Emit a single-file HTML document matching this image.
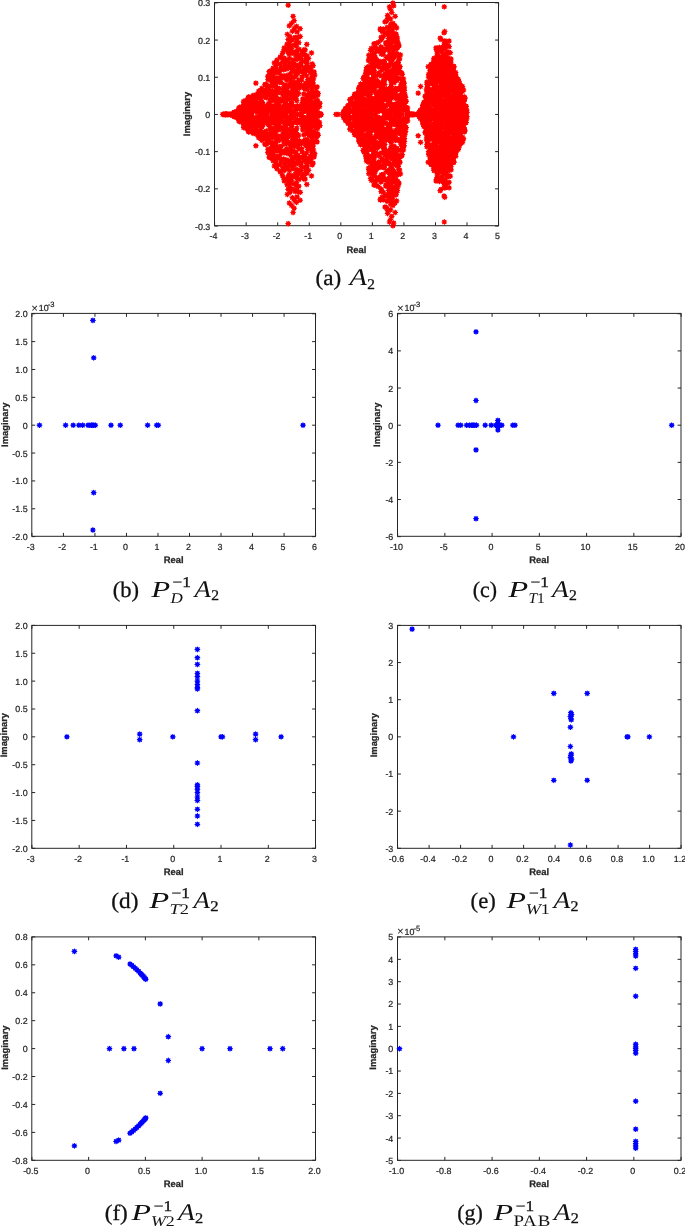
<!DOCTYPE html>
<html lang="en"><head><meta charset="utf-8"><title>Eigenvalue distributions</title>
<style>html,body{margin:0;padding:0;background:#fff}body{width:685px;height:1226px;overflow:hidden}svg{display:block}
.tk text{font-family:"Liberation Sans",sans-serif;font-size:8.9px;fill:#262626;stroke:#262626;stroke-width:0.22px}
.lb{font-family:"Liberation Sans",sans-serif;font-size:9.4px;font-weight:bold;fill:#262626;stroke:#262626;stroke-width:0.25px}
.cap{font-family:"Liberation Serif",serif;font-size:22.2px;fill:#111;stroke:#111;stroke-width:0.3px}
.cap .i{font-style:italic}.cap .n{stroke:none}text{text-rendering:geometricPrecision}
</style></head><body>
<svg width="685" height="1226" viewBox="0 0 685 1226">
<rect width="685" height="1226" fill="#fff"/>
<marker id="mr" markerUnits="userSpaceOnUse" markerWidth="8" markerHeight="8" viewBox="-4 -4 8 8" refX="0" refY="0" overflow="visible"><path d="M-2.3 0H2.3M0-2.3V2.3M-1.65-1.65L1.65 1.65M-1.65 1.65L1.65-1.65" stroke="#ff0000" stroke-width="1.2" stroke-linecap="round" fill="none"/><circle r="1.95" fill="#ff0000"/></marker>
<marker id="mb" markerUnits="userSpaceOnUse" markerWidth="8" markerHeight="8" viewBox="-4 -4 8 8" refX="0" refY="0" overflow="visible"><path d="M-2.3 0H2.3M0-2.3V2.3M-1.65-1.65L1.65 1.65M-1.65 1.65L1.65-1.65" stroke="#0000ff" stroke-width="1.2" stroke-linecap="round" fill="none"/><circle r="1.95" fill="#0000ff"/></marker>
<path d="M214.60 225.70v-3.40M214.60 2.50v3.40M246.16 225.70v-3.40M246.16 2.50v3.40M277.71 225.70v-3.40M277.71 2.50v3.40M309.27 225.70v-3.40M309.27 2.50v3.40M340.82 225.70v-3.40M340.82 2.50v3.40M372.38 225.70v-3.40M372.38 2.50v3.40M403.93 225.70v-3.40M403.93 2.50v3.40M435.49 225.70v-3.40M435.49 2.50v3.40M467.04 225.70v-3.40M467.04 2.50v3.40M498.60 225.70v-3.40M498.60 2.50v3.40M214.50 226.05h3.40M498.50 226.05h-3.40M214.50 188.85h3.40M498.50 188.85h-3.40M214.50 151.65h3.40M498.50 151.65h-3.40M214.50 114.45h3.40M498.50 114.45h-3.40M214.50 77.25h3.40M498.50 77.25h-3.40M214.50 40.05h3.40M498.50 40.05h-3.40M214.50 2.85h3.40M498.50 2.85h-3.40" stroke="#262626" stroke-width="1" fill="none"/>
<rect x="214.50" y="2.50" width="284.00" height="223.20" fill="none" stroke="#262626" stroke-width="1"/>
<g class="tk">
<text x="213.50" y="239.00" text-anchor="middle">-4</text>
<text x="245.06" y="239.00" text-anchor="middle">-3</text>
<text x="276.61" y="239.00" text-anchor="middle">-2</text>
<text x="308.17" y="239.00" text-anchor="middle">-1</text>
<text x="339.72" y="239.00" text-anchor="middle">0</text>
<text x="371.28" y="239.00" text-anchor="middle">1</text>
<text x="402.83" y="239.00" text-anchor="middle">2</text>
<text x="434.39" y="239.00" text-anchor="middle">3</text>
<text x="465.94" y="239.00" text-anchor="middle">4</text>
<text x="497.50" y="239.00" text-anchor="middle">5</text>
<text x="210.30" y="229.50" text-anchor="end">-0.3</text>
<text x="210.30" y="192.30" text-anchor="end">-0.2</text>
<text x="210.30" y="155.10" text-anchor="end">-0.1</text>
<text x="210.30" y="117.90" text-anchor="end">0</text>
<text x="210.30" y="80.70" text-anchor="end">0.1</text>
<text x="210.30" y="43.50" text-anchor="end">0.2</text>
<text x="210.30" y="6.30" text-anchor="end">0.3</text>
</g>
<text class="lb" x="356.50" y="252.60" text-anchor="middle">Real</text>
<text class="lb" transform="translate(190.10 114.00) rotate(-90)" text-anchor="middle">Imaginary</text>
<polyline points="422.4,118.2 347.6,122.2 267.4,119.4 291.9,105.8 386.7,140 447.1,131.3 301.4,105.3 287.1,135.1 310.2,149.1 252,104.9 281.3,159.6 452.1,100.3 272.4,81.5 452.1,106 378.2,65.1 392.9,225.8 277.8,123.9 262.7,106.9 418.2,135.7 450.1,70.2 367.7,72.3 380.7,87.3 371.3,148.9 282.4,175.2 299.6,144.1 317.3,100.2 441.3,145.3 400.7,98.2 455.7,72.5 401.7,148.6 250.4,99.8 393.1,180.8 427.6,87 427.3,87.8 445.4,186.7 400.8,156.2 386.5,162.1 278.1,104.5 381,167.1 272.4,147.3 395.6,98.4 446.1,123.5 429.2,108 386.2,186 265.5,132.3 442.3,78.1 360,104 252.3,97.7 314.5,125.4 439.8,122.7 447.5,70 454.1,125.9 427.7,127.6 309.5,112.6 428.6,151.6 403.5,106.5 319.9,103.2 447.6,134 434.7,131.3 431.9,90.1 387.7,72.3 360.1,137.8 280.4,56.8 285.3,122.1 304.6,125.4 452.5,140 388.4,90.7 277.9,92.9 433.1,97.9 277.6,110.6 363.9,106.4 252,123.9 264.2,96.6 419.3,112.1 300.2,108 422,112.2 431.9,130.3 359.6,87.8 355.5,112.4 367.9,117.2 448,53 434.1,58.2 431.4,83.2 372.3,157.4 366,115.9 372.4,138.9 286.9,120.5 390.6,153.7 276.3,86.7 348.8,118.3 295.2,37.3 250.3,99.5 311.2,82.6 384.1,64 425.6,131.6 286.1,107.1 446.3,97.3 306.5,170.3 375.4,113.5 390.5,139.1 467,116.5 314.6,120.5 307.6,159.9 264.5,113.4 286,179.2 440,50 378.8,161.8 454.8,97.4 290.7,151.6 432.7,144.8 278.8,98.9 302.4,53.1 398.1,155.3 364.5,118.7 464.7,106.5 437.8,124.5 317,113 455,134 450.7,73.2 366.7,113.3 404.4,141.7 379.7,130.6 243.9,117 443.2,143.3 457.8,98.6 294.1,208.2 425.4,112.2 277.8,124.6 452.3,146.7 448.8,148.2 452.5,88.8 223.8,114.1 459.8,120.2 280.1,82.1 425.5,105.9 437.8,104.3 462.5,86.6 290.2,144.2 276.9,98.8 398.9,150.5 354.5,117.8 400.1,105.4 394.6,91.6 401.4,90 398.5,140.5 464.1,129.3 426.8,100.7 425,103.4 394.9,113.8 461.6,111.3 400.5,130 356,119 457.7,98.8 245.8,114.8 317.3,134.3 315.5,93.9 441.3,121.5 448.7,95.3 440.2,38.1 250.3,125.3 429.2,83.4 429,100.6 442.7,136 428.1,88.7 459.1,102.9 428.7,74.2 273.4,147.9 366.7,125.9 358.9,116.1 310.1,146.5 272.2,130 400,162.2 395.5,154.9 307.9,79.5 283.4,51.3 456.8,83.1 274.4,82.3 398.1,73.5 443.5,66.2 283.8,159 447,59.4 457.5,81.9 452.1,122.8 359.1,98.7 358.4,130.3 402.9,82.2 384.1,164.8 362.4,131.4 460.6,141.4 442.8,58.4 296.7,128.1 403.2,146.3 462.8,90 449.4,124.5 307.9,158.4 285,84.8 386.8,159.5 457.5,146.9 438.8,64.2 446.7,71.3 368,100.1 236.6,112.1 440.6,136.9 238.8,108.2 390.9,86.3 390.5,118.7 413.3,114.3 246.3,128.3 455.1,135.7 258.1,103.4 289.9,63.1 356.6,106.1 379.3,75.1 313.5,150 445.9,160.5 452.6,79.3 441.4,103.8 447.7,183.4 371.2,114.6 420.2,117.2 371.3,86.5 268.8,103.5 445.2,87.7 406.9,115 432.5,98.4 401.1,119.6 239.8,120.1 457.6,139.3 364.5,110.1 442.2,135.7 460.2,111.8 388.5,78.1 443.9,126.8 390.7,165.4 375.8,117.9 307.7,142.3 445.7,68.5 451.5,118.7 444.4,127.3 448.6,76.9 400.4,54.9 384.6,99.3 381.3,126.2 433.1,130.9 260,125.2 437.5,155.2 460,127 363.9,122.4 451.1,169.8 298.2,157.6 364,77 372.5,63.6 426.9,146.7 270.9,130.3 392.5,159.2 303.6,111.6 441.4,133.9 275.1,134.2 281.3,152.3 395,123.9 372.4,148.2 271.3,72.1 289.9,109.8 260.1,113.8 312.1,150.9 444.8,42.6 365.6,81.8 264.9,114.6 276.9,168.7 386.7,88.8 309.5,116.2 363.6,113 446.9,149.5 314.1,156.9 453.9,101.6 441,115.2 391.7,122.3 266.4,113.9 363.6,112.3 454.2,93.4 276.9,139.7 361.3,95.7 432.3,139.3 301.2,166.4 440.7,81.7 375.8,110.9 378.4,60.9 464.8,97.7 396.7,124.8 431.3,74.4 399.3,70.4 296.5,176.9 293.1,176.7 374.2,105.2 445.8,182.8 433,111.5 362.9,139.5 308.8,116.4 287.5,136.7 395.8,63.6 446.4,170.1 384.9,133.8 448.6,151.9 449,151.2 239.7,112.2 387.4,113.8 457.1,140.7 276.1,77.7 377.4,94.6 290.7,64.1 386.4,133.2 383.4,36.6 455.1,93.1 253,95.5 454.1,148.3 365.9,124.4 293.2,131 391.8,55.5 319.5,115.6 309.1,111.4 355.6,114.3 303.8,102 373.4,73.9 422.8,120.3 254.8,97.7 373.5,125 399,45.8 411.6,114.2 293.9,45.2 273.9,159.2 390.5,219.5 376.6,102.7 291.9,123 394.1,47.9 290.3,94.7 461.6,86.4 427.4,113.9 390.7,165.3 250.5,118.1 424,102.8 259.2,103.5 285.4,131.9 378.8,155.8 386.5,135.8 315.5,134.9 432.6,84.2 256.8,106.1 390.1,150.1 431.2,136.7 381.1,94.5 436.8,156.3 303.8,126.8 456.2,127.1 443.5,55.3 248.7,96.8 309.2,100.5 441.7,75.5 346.7,115 380.4,28.9 433.9,129.7 395.1,156.7 286.9,108.3 360.3,116.3 280.1,146.7 380.8,50.4 428.7,154.6 404.6,103 389.2,98.1 309.3,115.9 459.3,122.6 367.9,111.6 367.4,133.2 296.9,178.1 434.5,167.8 271.9,146.6 450.3,176.1 443.5,162.6 234.2,116.4 291.5,23.4 445.1,149.4 303.6,73.3 289.3,144.4 273.2,110.1 261.9,102 286.7,118.6 442.8,170.4 305.1,54.7 390.8,157.5 365.7,155.1 365.9,129 390,197.4 367,110.5 386.8,114.2 441.4,61 440.6,92.5 312.2,63.9 276.2,69.2 266.7,135.3 245.6,102.6 280.2,118.1 389.7,170 456.3,110.1 375.7,152.9 442.8,126.8 422.3,115.7 272.8,86.2 298.8,186.2 434.7,144.9 365,103.8 312.3,83.9 446.7,91.6 376.7,51.2 410.2,114.2 283.5,115 277.2,139.7 296.7,106.8 431.1,102.6 310.4,96.6 461.6,142.4 461,128.8 452.4,146.9 387.6,117.7 387.7,131.7 380.7,29.1 358.2,137.3 276.7,116.7 262.3,91.7 255.2,125.1 395.1,124.6 436.1,108.7 296.1,38.2 442,75.5 393.8,162.9 317.5,123.6 436.8,150.1 255.9,83.1 385.5,179.3 361.5,101.3 447.2,119.5 256.4,129.4 350.7,125.1 436.6,157.3 437.1,59.8 379,109.4 372.4,59.3 313.7,105.9 386.9,201.3 403.8,103.3 374.7,137.2 376,86 443.7,101.1 431.4,136.4 313.8,107.2 463.5,90 314.6,108.3 390.5,9.3 280.5,120.8 431.8,155.2 365.3,145.8 433,117.3 426.8,112.3 357.6,99.1 440.9,158.7 442.1,52.3 461.8,114.8 396.3,107.9 281.9,136.1 285.3,106.7 398.8,54.7 381.5,50.3 440.2,133.3 268,134.6 312,115.9 355.8,117 291.9,189 355.8,132.7 431.4,127.4 243.9,111.8 242.3,121 364.4,103.2 382,51.5 310.3,72.7 260,103.6 453.5,108.5 305.2,49.8 279,151 290.3,134.1 362.9,89.3 446,89.6 384.9,91.3 269,151.8 378.5,186.6 275.2,115.1 357.1,124.3 356.3,127.2 420.2,118.5 384.2,79.9 402.1,127.3 373.4,154.9 442.9,136.5 242.3,107.8 308.3,83.6 357.1,104.5 437.3,175 370.4,123.7 404.4,90.5 370.8,115.6 403.4,78.9 462.2,89 259,117.5 265.4,108.2 458.4,148.1 301.9,108.3 459,116.9 225.9,114.3 296.1,190.6 312,112.9 313.4,118.3 393.6,92.3 291.3,103.5 298.6,58.3 361.5,127.5 307.6,100.7 355.6,115 312.3,144.9 396.6,200.9 268.2,106.5 412.3,114.4 438.4,107 357.8,134.8 277.5,104.8 381.9,197.3 422.6,120.2 449,63.9 264.8,94.9 371.3,120.3 442.7,169.9 374.2,123.6 309.2,67.4 297.7,163.2 351.4,111.1 296.7,100.7 365.5,147.6 281.3,127.9 452.4,81.9 443.3,179.5 312.4,102.9 438.3,104.6 268.6,89.3 460.1,136.4 260.1,96.2 304.5,127.3 447.8,146 400,66.6 246.9,106.1 456.2,101.7 301.6,107.3 281.2,117.5 427.6,141.8 431.1,126.2 285.6,63 412.2,114.3 445.2,141.1 391,152.3 459.6,140.8 428.4,108.3 432.5,91.5 386.5,66.7 383.8,51.3 281.3,82.6 430.9,156.8 284.7,102.6 434.4,143.7 286.7,110.2 436.6,71.5 446.5,146.9 288.6,86.4 383.2,109.3 302.5,126.4 447.2,109.3 298.1,160 381.1,134.3 389.2,201.3 300.3,36.5 297,94.6 392.5,171.3 458.1,139 454.8,131.4 292.6,82.6 402,125.9 297.9,155.4 429.9,158 378.5,146 428.6,107.6 432.6,130.6 295.3,174.3 302.1,151.9 402.3,78.7 388.8,187.9 464.8,122.2 266.9,140.3 374.3,58.8 407.6,108 460.2,137.9 460.2,104.5 447.9,72.2 402.2,126.3 284.3,122.3 437.9,146.6 437,124 425.8,123.4 384.5,113.5 400,87.6 284.2,47.8 370.7,104.2 257.5,131.8 274.6,116.3 432,67.9 272.4,134.7 348.4,105.1 373.5,103.8 284,58.3 272.9,134.6 360.2,129.1 297,134.2 441.4,94.9 406.9,113.8 369.9,113.2 452.8,159.5 396.7,159.9 449.5,89.7 390.1,44.7 431.4,64.2 240,110.5 422.6,109.5 275.7,145.4 373.1,145 393.2,58.2 450.7,70.6 441.1,39.5 287.7,60.4 373.6,124.4 425.4,116.6 379.2,91.6 441.3,83.5 234.5,116.7 280.8,67.8 395.1,163.5 316.7,109.6 299.6,141.6 463.8,110.2 392.5,198.8 385,113.2 460.1,92.4 381.3,102.6 250.3,129.3 267.9,152.6 310.8,127 379.9,177.4 444,83.2 400.4,173.9 250.3,103.5 293.7,91.7 398.2,166.4 384.7,116.7 401.6,98.9 439.3,169.6 306.8,173.1 277.8,104.9 441.5,180.1 448.8,52.4 368.1,125.3 453.2,150.4 355.1,118.3 385.3,73.6 376,101.7 387.9,101.5 238.8,109.5 439.7,137.9 444.7,31.5 386.6,57.5 247.6,127.8 441.2,94.6 445.5,126.1 435.8,98.6 441.5,51.5 311.6,101.9 277,72.7 442.4,68.1 388.7,135.6 344.1,117.3 428.7,116.3 461,100 290.4,187.5 402,102.9 368.6,60.8 438.6,103.1 438.8,57 455.3,140.1 441.6,154.5 465.9,106.2 360.1,110.2 399,183 424.7,118.4 289.5,53.6 357.2,120.4 433.9,62.4 433.7,159.6 428.6,77.2 277.6,118.2 285.6,165.8 448.1,161.7 453.1,108.7 440,178.8 459.4,111.9 368,128.7 378.2,163.7 390,94.1 291.2,116.2 286,49.6 373.6,175.3 307.6,68.9 451.8,105.2 303,111.7 266.3,97.8 293.1,52.1 385.9,105.6 362.6,114.2 272.6,73.9 239.8,108.7 442.2,93.1 396.7,79.7 397.6,46.1 453.4,152.9 450.9,166.7 384.8,160.8 236.6,116.7 309.6,120.4 393.6,136.5 288.2,5.2 354.6,134.5 281.6,116.7 384.9,116.1 350,99.4 290.1,36.6 381.2,191.6 297.8,163.5 389.9,101 304.5,156.2 447.4,58.1 391,73.1 393,205.4 355.1,134.7 355.1,110.5 368.3,109.9 381.5,118.4 397.5,117.5 391.5,104.1 301.2,62.4 311.9,91.3 360.1,91 370.7,124.6 461.8,109.5 277.8,104.2 402.2,108.9 439,135 434,81.5 238.6,116 445.2,127.8 368,160 435,145.2 457.6,89.5 444.7,197.3 373.2,150.9 387.6,210.4 454.1,114.3 465.2,121.5 430,135.3 465.5,116.7 430.3,100.1 465.9,117.3 378.5,82.8 377.4,80.5 396.7,96.3 313.5,78.8 405.5,131.4 371.6,149.8 433.6,113.6 432.4,155 246.9,122.7 381.6,91.3 375.7,81.4 406.3,121.6 456.8,145.7 446.7,137.2 248,106.6 401.7,155.8 454.3,100.7 459.7,112.8 295.9,130.6 285.5,94.8 260.1,96.2 271.2,100.9 361.8,86.7 395.3,93.8 450.1,158.6 454.6,98.7 375.8,121.1 265.5,117.5 459.8,93.5 359.5,141.6 430.9,164.1 445.6,113.2 395.1,156.7 453.6,113.1 449,119.9 372.6,169.1 290.2,64.7 443.8,45.4 229.1,114.3 248.7,132 297.7,65.6 385,115.6 297.5,105.8 442.1,179.3 293.8,111.2 389.6,103.2 272.3,122.5 301,58.3 347.4,115.8 453.3,160.5 428.8,130.9 383.8,167.6 444.4,132.3 374.1,61.7 464.1,99.5 294.5,28.4 307.7,110.5 432.4,155.5 300.1,28.6 312.9,82.5 392.9,3 436.8,72.5 389.6,104.8 396.7,132.5 364.5,76.7 304.1,160.8 399.3,101.9 439.1,74.9 287.7,120.1 279.5,140.4 278.1,124.3 436,181 360.2,99.7 314.7,153.7 288.1,189.3 254.2,104.6 461.1,112.8 384.8,68 367.4,77.3 455,94.8 436.5,125.5 447.5,92.1 257,116.6 403.5,122.3 427.4,114.9 456.9,114.2 369,66.4 441.7,70.6 395.8,165.2 245.9,120.6 425,125.4 448.5,89.7 452.3,103.5 455.9,86 399.3,158.4 376.7,177.6 284.6,96.6 275.2,85.1 428.6,135.8 389.8,54.2 457,110.1 428.7,117.2 265.5,96.5 321,114.7 442.3,61 434.8,114.7 380.1,50.1 391.4,86.6 366.7,102.9 379,119.8 458.2,149.5 451.9,90.3 313.5,93.3 280.5,78 257,112.2 441.2,57.4 457.8,130.2 308.8,112.4 372.2,109.1 283.8,69.8 441.5,110.6 309.2,161.4 261.3,116.9 393.9,57.2 395.8,107.4 431.4,92.4 258.7,91 286,112.6 437.4,90.8 317.4,114.1 364.4,100.9 286.6,79.9 292.2,157.3 393.3,107.4 274.4,131 357.8,94 437.1,110.2 315.3,87.6 466,106.4 354.4,115.1 268.5,120.9 430.5,126.5 280.5,108 379,109 449.7,131.3 258.7,137.8 385.2,110.5 394.2,146.2 381.4,189.2 447.8,109.1 389.3,36.5 386.5,72.7 236.6,113.6 369.6,97.4 355.6,94.8 401.8,114.2 403.7,89.4 384.2,179.7 368,135.1 455.7,156.3 291.7,112.6 386.2,33.6 465.5,112.1 349,122.5 460.2,117 441.5,118.2 386.8,161 386.5,156.1 385.5,49.5 309.2,128.3 380.8,178.4 259,111.3 449,108.9 453.6,126.8 258.2,132.5 346.7,113.8 244.6,112 260.6,99.8 434,104.9 436.9,156.7 440.1,124.2 372.2,119.7 434.9,87 455.4,137.8 430.2,92.8 293.1,16.3 369,135.7 451.5,68.6 237,116.5 464.2,131.9 453.9,127.2 375.8,127 361.1,131.2 370.5,126.9 452.8,133 368.1,103.5 432,160.9 404.8,94.1 435.5,105.5 315.6,87.3 267.8,124.3 373,129 429.7,93.8 376.9,98.6 300.1,200.2 274.2,123 375.8,107.7 438.2,114.8 292.4,161.6 452.6,162.7 391.7,190.5 431.7,74.8 381.9,31.5 301.7,143.5 389,34.9 369.1,138.3 360,109.2 446.3,131.5 287.5,92.1 366.6,67.6 273,79.6 444.4,101.5 446.5,119.2 311.6,92.3 465,114.2 435.5,122.4 311.8,92 448.6,149.1 446.7,53.1 368.8,55.2 311.5,175.9 444.1,163.7 318.1,93.4 448,175.8 379,119.4 301.1,163 433.2,117.2 381,125.1 447.3,167.2 292.6,146.2 446.1,58.8 377.4,148.3 384.6,32.7 465.4,113.9 270.8,90.9 316.1,116 245.8,114 312.4,125.9 402.9,146.6 251.1,123.1 313.5,135.5 427.6,143.9 397.8,165.4 458.4,111.9 285.1,122.5 292.5,114.3 290.8,160.6 447.8,83.1 391.1,61 283.5,106.9 288.6,50.1 445.2,101 361.4,140.3 405.7,127.4 289.3,25.8 429.7,120.5 304.2,105.2 435.5,106.4 373.9,65.2 386.1,96.6 347.4,113 429.1,121.3 256,120.4 388.6,100.6 310.4,116 384.7,112.1 379.3,153.7 288.9,162.4 380.1,178.7 235.4,114.7 434.5,65.9 275.9,91.3 282.4,53.6 427.9,112.7 439,122.8 381.1,89.7 426.7,93 392.5,30 396.1,194.8 442.3,111.9 432.3,89.5 393,202.8 375.2,171.8 455.7,88.8 447.3,101.8 295.4,38.4 388.9,50.5 356.4,103.5 298.5,135.1 431.1,109.3 370.5,101.9 365.9,99.8 364.8,102.7 303.9,179 319.9,125.6 360,124.8 348.8,110.5 389.9,199.2 397.7,41.8 377.7,85.8 293.8,117.6 292.4,67.2 306.5,75.9 463.7,123.5 398.4,184.7 443.2,154.5 442.8,113.5 445,47.8 432.1,101.8 296.6,108.3 393.5,110.5 457.3,146.9 277.3,104.8 284.3,60.4 355.3,102.7 268.6,139.5 437.2,172.3 279.4,81.5 442.8,115.3 449.4,104.3 267.3,111.1 461.2,101.5 276.1,146.8 364,139.8 268.4,151.9 404.8,134.7 289.6,184.5 450.2,163.3 254.4,95.5 439.5,181.4 452.2,116.5 360.9,85.3 304.2,141.2 373.9,161.8 414.1,114.4 250.1,117.6 255.3,108.5 307.1,62 284.7,141.8 270.1,100.1 442.3,161.7 289.9,119 423.9,102.4 250.1,111.2 398.8,174.1 373.9,163.6 386.8,69.3 400.7,94.8 387.5,47 451.1,59 438.7,116.3 284.6,132.2 383.4,192.2 446.6,146.3 434.4,63.6 363.7,84.5 384,136.5 298.8,42.6 400.7,130.6 435.5,68.2 310.7,104.8 261.8,140.4 430.2,79.8 442.4,107.4 427.1,95.3 418.8,114.7 368.7,159.6 367.2,116.4 234.5,112.1 273,152.9 317.6,133.7 376.2,166.4 270.1,157.4 268.3,134.8 270.8,72.9 301,71.2 413.3,114.4 309.4,161.4 423.2,124.5 438.3,92.3 458.1,89.8 463.8,118.6 420.2,110.3 248.4,115.7 243.8,102.7 275.3,101.5 456.9,114.6 297.9,73.4 453.2,114.2 227.7,114.5 286.8,111.9 287.7,108.7 374.3,157.9 289.4,154.3 348.3,113 361.1,97.6 450.8,72.1 434.7,89.5 447.2,102 441.7,88.3 389.2,110.9 286.8,87.6 300.1,107.8 378.6,145 368.8,169.6 460.1,132.8 243.7,127.6 446,70.1 436.1,120.1 385.9,123.2 285.5,116.9 273.8,137.3 269.1,71.7 443.6,115 237.2,111.6 315.6,141.5 446.1,154.4 275.3,127.3 428.4,131.8 345.8,120.6 285.4,96.9 401.1,109.2 437.8,128.9 277.2,89.1 256.1,109.3 445.3,60.5 290.4,41.3 458.4,116.9 363.8,88.9 391.8,55 389.7,47.5 237,113.4 366.7,115.5 393,26 313.4,110.5 284,170.5 391.4,142.2 439,172.1 446.7,175.7 431.4,164.6 374.2,138.7 241.9,108.4 301.7,85.3 295.7,155.7 400,141.2 363.6,116.5 452.3,125.3 301.1,65.8 375.6,83.1 357.6,129.7 364.6,119 466.6,109.9 368.6,84.4 393.6,193.5 306.3,128.2 439.8,86.7 443.2,74.3 358.2,115.9 304.1,68 381.7,88.9 304.6,125.5 441.2,134.2 268.2,122.3 436.4,160.6 387.7,156.5 426.8,125.5 416.9,114.2 279,77.8 396.8,174.3 291.5,163 394.2,82.6 393.5,118.3 292.6,89.2 377.9,111.7 296,145.4 277.7,106.5 296,59.6 281.3,69.2 453.3,83.7 355.6,114.5 361,94.9 287.4,194.4 449,139.8 252,112.1 442.6,168.7 399.3,162.1 440.6,135 347.8,110.5 284.2,111.7 307.2,107.1 303.9,49.8 281.3,100.9 268.5,91.3 397.2,175 441.8,169.7 394.1,120.4 273.1,68.1 441.5,110.6 395.1,72.1 289.8,120.3 436.3,69.3 445.6,135.3 307.2,99.1 310.8,80.2 383.7,148.9 453.3,84.3 356.3,105.2 442,171 454.2,135.4 444.1,65.1 304.5,101.5 431.4,160.1 252.3,131.1 317.3,101 429.1,126.1 299.2,171.7 385.2,118.3 391.5,119.6 266.5,115 438.5,166.7 383.5,96.8 288.7,92.6 424.5,115.2 426.4,100.7 453.3,145.1 267.9,76.2 391.4,185.3 317.6,95.1 375.1,47 449.8,63.1 361.8,142.1 303.1,174.5 302.1,76.9 398.9,133.2 383.7,79.9 306.6,163.5 433.9,99.1 383.3,146.9 446.6,94.2 403.2,103.3 391.1,196.3 317.3,128.6 284.2,181 297,38.8 439.2,98 447.2,51.8 459.7,83.4 382.6,87.4 358.4,97 455.9,111.6 243.7,101.2 439.7,90.9 381.9,178.7 299.3,140.7 372.6,49.3 402.6,143.8 442.5,143.3 313.8,118 289.2,177.9 293.6,122.8 384.8,84.5 381,105.8 425.1,122.2 432.6,98.2 462.5,142.2 433.6,168.8 358.4,131.8 450.9,62.1 465.5,118.4 441.7,140.5 309.5,115.9 369.8,136.1 277.7,71 441.8,154.4 433.3,69.8 296.9,50.7 226,114.4 276.6,118.8 460.4,101.8 442.4,121.4 440,67.5 457.3,81.9 442.7,161.1 443.2,87.6 430.3,81.2 435.9,59.7 431.4,145.6 432.7,84 361.3,133.1 438.3,58.3 441.8,74.4 439.2,168.5 373,67.4 363.7,144.3 311.8,136.8 309,113.9 464.8,130.1 302.8,129.9 422.1,109.8 429.2,145.4 309.7,143.1 457.4,132.7 390.7,96.2 452,139.3 269.1,157.1 279.6,155.8 309.4,159.1 447.8,73.9 366,78.2 433,89.9 260.2,116.7 282.4,89.6 375.5,65.7 396.6,27.9 291.1,147.6 439.3,92.1 299.1,49.4 354.4,131.6 374.3,70.9 273.2,118.7 373.9,67 433.3,114.1 385.3,155.2 395.1,65.3 371.3,140.8 292.4,197.6 391.8,173.8 256.8,122.7 295.2,138 441.9,144.3 390.9,24.3 382.5,100.1 368.8,173.6 371.4,180.4 271.3,156.7 364.4,126.9 453.5,155.1 458.4,80.7 312,76.1 349,111.9 371.3,172.2 402.2,74.3 345.8,108.2 312.2,164.9 375.7,75.9 287.4,149.9 406.5,110.4 249.9,115.2 355.8,112.6 376.6,126.1 395.4,152.2 388.7,93.2 453.9,162.4 434.3,64.6 292.4,175.8 314.7,75.1 438.2,168.5 447.1,106.8 277.9,135.9 435.7,141.8 275.2,113.7 436.6,111.5 275.1,94.6 431.8,73.6 397.8,181.6 289.1,107.1 381,61.7 364.8,126.1 436,115 393.9,171.6 238.6,112.8 363.1,78.5 436.7,123.6 377.9,117.1 357.2,108.4 304.4,159 364.9,80.2 390.5,18.9 433.6,115.2 304.3,86.3 428.2,66.6 280.7,106.8 388.9,89.6 314.2,116.9 236.6,115.2 430,93.5 291.1,81.2 245.9,108.2 456,116.4 348.4,123.7 436.5,73.9 302.5,102.4 440.5,168.3 296.1,43.1 396.3,49.3 449.1,46.6 373.1,149.3 366.3,105.5 295.9,139.6 394.5,131.7 426.8,128.1 364.3,86.2 449.3,118.6 391.3,146.7 300,143.5 412.3,114.6 436.8,78.7 251.4,107.9 293.8,111.4 352.6,97.9 444,196 365.9,104.4 248.3,130.9 395.1,104.2 459.7,145.4 270.8,155.9 356,109.8 427.1,84.4 445.1,79.4 354.4,113.7 448.7,133.5 455.6,76.2 257.7,106 431.3,125.3 362.9,129.4 314.1,71.9 398.8,59.1 294.4,165 442.3,116.9 378.3,105.5 293.2,97.8 369,106.8 404.4,138.3 376.3,94.5 267.7,143 402.1,101.5 447.4,170.7 425.1,132.6 461.2,127.3 307.2,121.7 270.6,108.3 261.9,126.8 397.5,111.3 390.6,94.5 457,118.7 286.6,148.9 294.1,20.6 445.5,102.7 313.1,65.7 253.7,104.4 299.7,120 449.1,187.8 348.2,106.3 428.2,162.2 371.9,137.7 460,126.1 264.9,143.9 457.4,99.6 367.4,115 249.5,97.4 451.6,102.6 433.1,114.7 367.4,113.8 264.8,111.8 370.4,105.1 301.6,148.7 296.5,51.9 435.1,150.1 295.7,152.1 258.4,120.2 241,117.7 292,116.5 386.9,27.5 454.1,80.5 396.7,104 394.7,46.9 356.1,107.6 308.3,145.2 452.4,105.8 291.6,126.6 430.1,153.4 309.4,67.4 388.9,178.3 309.4,69.7 389.3,115.4 437,50.6 461.1,108.3 357.4,130.2 306.6,103.1 288.5,52.5 295.9,98.2 266.7,93.5 367.4,95.6 355.6,134 285.5,106.4 393.5,190.6 360.7,129.5 276.6,99.5 234.2,112.4 388.5,32.1 282.4,139.2 391,155.7 456.9,141.2 379.9,104.2 362.4,126.3 261.8,88.4 438.5,154.5 289.9,165.7 387.6,18.4 293,60 366.1,116 398.4,89.2 343.7,115.5 450.3,52.7 275.9,137.5 249.9,98.3 402.2,119.9 312.4,143.6 404.4,87.1 396.8,80.5 431.6,151 305.1,174.1 297.6,120.9 464.8,131.1 277.7,122.3 457.2,99.4 451.3,124.6 265.4,120.6 380.7,141.5 354.5,111 316.8,133.7 294.5,82.3 354.6,94.3 389.9,29.6 260.1,119.1 448.8,176.4 435,83.6 420.5,116 390.6,75.1 440.9,70.1 284.5,58.9 286.3,75.5 317.3,127.8 429.7,120.1 436.9,72.1 376.3,134.3 254.8,108 447.3,62.9 230.6,114.5 359.1,130.1 289.1,121.7 455.4,91 387.4,115 268.7,119.4 459.1,125.9 382.7,144.1 439.8,142.1 296,169.2 447.8,119.7 440.6,80.5 399.6,58.8 376,130.3 374.5,141.2 269.3,124.4 387,32.6 303.6,155.5 404.7,119.1 385.5,152 422.3,113.1 309.1,122.6 281.3,146.2 302.8,98.9 307.2,129.7 299,159.9 380.6,29.9 382.4,97.1 393.6,35.3 371.9,91.1 232.9,114.4 450.5,130.5 396.6,44.7 457,130.5 378.8,67 279.4,116 358.5,110.2 268.8,125.3 276.3,142.1 391.4,43.5 443.4,109.9 267.7,85.8 264.8,117 258.1,125.4 388.8,190.5 448.5,139.1 316.8,95.1 433.6,118.7 239.7,116.6 442.8,102 436.2,87.1 226.2,114.2 390.7,116.1 380.7,199.7 373.6,104.4 449.2,63.8 450.3,154.7 311.2,146.2 396.7,149.1 286.8,116.9 396.3,179.5 287.4,124.2 434.1,170.6 400.5,98.8 296.4,46.2 375.1,184.4 441.5,177.3 272,114.6 387.6,111.1 350.7,103.7 444,32.8 393.8,108.7 317.1,86.9 452.3,155.6 301.6,121.5 307.6,128.1 365.6,136.5 387.5,181.8 280.5,164.9 388.8,40.9 297.6,107.9 438.3,136.5 465.9,118.1 379.7,135.3 306.8,55.7 400.4,98.2 439.8,81.9 370.6,103.6 435.9,146.1 401.6,129.9 306.4,121.9 273.8,115 299.6,84.7 268.3,94 423.3,113.3 441.3,107.3 447.9,122.4 441.2,171.4 383.5,199.6 434.9,166.9 447.6,130.8 398.3,111 457.7,130 423.9,126.4 398.8,169.7 363.8,139.9 295.4,91 248.1,109.2 434.3,100.6 432.5,130.4 230.5,114.6 382.5,128.7 445.9,68.3 439.3,136.7 440,67.1 311.7,141.2 292.5,114.5 440.2,95.5 283.4,61.1 361,133.9 277.5,124 448,87.8 407.9,113 309.1,106.2 367.4,151.5 423.2,104.3 450.9,116.8 285.5,122.4 302.2,52 259.9,105.1 453.1,120.1 358.8,140.1 420.2,111.6 449,77.6 371,129.4 250.5,110.7 390.6,134.3 439,56.7 367.3,86.6 309.3,112.9 400.8,72.6 371,99.4 273.8,91.5 379.9,51.4 398.4,101 422.8,108.5 398.3,105.8 429.1,107.5 316.7,119.2 386.8,138.7 367,141.3 391.7,38.3 435.9,82.7 396.1,34 455.6,154 453.6,115.7 450.7,158.2 430.5,102.3 434.3,164.2 445.8,46 249.9,130.5 455.9,142.8 431.3,145.5 457.2,138.2 289.4,74.5 459.6,88 273.4,80.9 386.6,171.3 370,102.5 443.1,63 428.6,93 433.6,60 363.1,150.3 434.8,114.1 255.9,145.7 435.8,130.2 280.7,122 292.4,136.4 377.4,134.2 359.5,122.1 402.4,83.5 442,57.8 295.2,191.5 299,68.9 371.2,114.2 315.7,121 429.9,115.6 304.6,103.4 384.9,112.7 458.7,118.9 363,110.8 428.4,97 446.2,168.5 440,161.7 463.2,107.4 462.8,138.8 455,140.7 284.2,150.9 273.9,69.6 459.4,116.9 455.7,140 459,100.1 247.5,99.9 424.7,110.4 287.4,104.6 269,77 395.6,90.8 275.2,143.7 397.8,63.4 451.6,126.2 346,117.8 388.5,196.7 295.3,54.5 297.8,65.3 264.4,121.6 455.6,152.6 443.7,56.5 433.1,151.5 433.1,77.3 288.9,53.5 452.8,95.8 349,116.9 382.2,106 304.1,61.4 403.8,109.7 267.4,109.4 426.3,131.4 435.5,123.3 390.8,148.9 283.4,167.7 429.7,108.7 381,63.2 259.9,123.7 393.4,51 267.8,104.5 247.5,110.7 376.9,130.2 366,150.6 304.1,167.4 430.2,149 313.7,122.9 372.3,123.4 375.1,181.8 286.9,68.9 311.6,136.5 439,106 436.4,137.4 276.9,89.1 374.5,100.3 428.8,97.9 390.7,112.7 290.7,164.7 393.2,149.7 395,25.9 431.7,154 244.6,116.8 309,114.9 274.8,106.7 359.2,141 240.6,118.3 360.3,112.5 389.3,113.4 296.5,202.4 304.5,70.9 397.8,47.2 369.1,90.5 350.5,117.8 304.4,69.8 381.5,102.7 446.6,82.5 443.8,169.8 390.7,132.6 381.3,54 448,80.7 459.7,116 382.6,141.4 406.2,101.2 456,112.4 433.7,134.3 359.5,106.7 347,108.6 460.4,127 307.1,89.3 464.8,98.7 378.3,123.3 450.8,156.7 311.9,137.5 436.5,103.3 460.2,90.9 443.6,113.8 287.1,44.2 286.8,141.2 392.7,69.8 376,80.8 452.1,101.2 377.4,92.7 299.7,108.8 380.7,47 253.7,126.2 248.3,97.9 282.7,94.8 240.6,121 463.2,121.4 450.9,112 255.8,107.9 444,145.6 434.4,165.2 318.1,135.4 310.3,133.5 258.2,96.3 445.4,42.1 292.3,162.7 261.9,102 282.1,121.9 298.1,173.8 442,153.3 364,151.8 353.6,104.1 437,104.8 371.8,173.8 376,142.8 395,104.9 461,128.5 281.3,76.5 461.1,116 389.3,192.3 370.4,109.2 364.1,118.6 370.3,134.2 364,89 391.7,106.5 310.4,112.8 249.1,113 422.6,119.3 395.5,73.9 457.1,88.1 451,137.7 364.2,89.4 299,106.8 414.8,114.4 387.9,127.3 430.3,77.8 396.6,184.1 393.5,38.2 460.2,124.3 381,123 359.2,87.8 454.9,138.7 297.8,136.2 379.9,124.6 389.1,38.3 462.2,139.8 389,170.3 262.8,109.5 449.3,110.2 352.7,102.5 371.3,88 431.3,103.5 411.1,114.6 391,76.5 387,155.1 263,104.1 391.2,182.9 284.2,77.9 428.4,120.5 296.6,120.5 313.9,97.3 437.1,100.7 393.3,157.5 367,87.5 429.5,138 296.7,122 381.5,110.4 457.2,90.6 446,139.2 371.3,79.9 288.9,175.3 391.1,74.6 294.5,146.5 282.7,134 401.7,73 312.1,77.9 390,134.7 426,100.3 448.6,101 374.2,156.2 222.7,114.4 250.4,129 350,129.4 360,119.6 433.3,146.7 391.4,120.8 467,112.3 297.3,114.1 429.9,70.8 437.1,128.1 280.5,150.8 369.9,115.6 442.5,85.5 253,133.3 430.4,118.3 442.7,67.7 395.6,130.4 424,126 465.9,122.6 300.9,115.3 377.2,179.8 356.6,122.7 287.1,93.7 394.1,41.1 447.8,154.9 279.6,73 268.4,76.9 434,123.9 261.1,115.7 452.3,73.2 382,177.3 272.9,94.2 387,196.2 390,31.4 374.3,170 286.3,153.3 432.6,144.6 386.2,43.9 436.7,105.2 463.5,138.8 343.7,117.6 452,89.5 456.6,91.2 397.6,182.7 273.8,113.8 362.3,128.9 446,103.7 306.1,141 272.3,77.1 442.7,58.9 285.5,134 347,120.2 464.2,96.9 390.8,79.9 289.7,142.9 235.3,113 435.1,78.7 362.9,99.4 371.2,130.8 359.8,104.2 367.2,112.4 306.4,106.9 276.7,112.1 313.1,163.1 459.8,108.6 288.1,39.5 273.1,71.9 370,117.2 436.5,154.9 270.5,86.4 289.3,203 225.2,114.3 374.6,82.2 268.2,137.7 369,162.4 259.4,124.2 430.3,147.6 443.4,118.9 281.2,111.3 465.9,111.5 457,98.8 437.3,53.8 425.6,97.2 292.3,66.1 465.2,107.3 422.8,123.1 452.2,112.3 282.6,129.7 435.1,147.4 395.6,138 447.9,153.7 453.7,161.5 368.7,82.5 457.7,123.6 370,126.3 391.5,109.2 432.5,137.3 290.2,164.1 462.6,97.3 443.4,66.7 259.4,104.6 430.9,80.8 384.2,148.9 363.6,115.8 431.6,77.8 442.6,88.9 379.7,97.1 253.7,102.6 429.2,120.8 288.7,44.9 343.7,116.2 290.7,77.2 450.7,103.4 373.7,55 448.6,127.8 292.4,92.4 457.6,148.9 389.7,58.8 463.3,99.1 378.4,167.9 399.3,66.7 312.4,85.2 261.3,111.9 292.4,53 241.8,120.1 457.4,96.1 390.7,63.4 440.7,109.3 355.8,111.8 438.7,112.5 389.6,125.6 358.2,91.5 308.5,58.4 394.7,181.9 277,165.6 247.5,118.1 434.7,139.3 278.8,148.8 455.6,74.8 436.6,117.3 442.9,92.3 394.1,187.7 443.5,173.5 249.5,131.4 391.2,45.9 433.7,69.2 442.1,115.5 451.3,104.2 393.3,71.3 442.1,176.5 401.1,144.5 385.8,43 384.4,106.1 443.1,165.8 436.4,179.3 279.4,147.3 449,89 394,33.6 366.9,153.9 426.7,135.8 286.1,121.7 232.5,114.7 292.1,145.3 429,128.2 260.1,92.2 466,122.4 362.3,99.9 363.2,116.9 464.8,106.6 425.1,96.2 435.4,133.2 442.4,160.7 386.8,90.1 446.1,105.3 402.3,150.1 439.8,106.1 461.6,117.5 362.7,144.5 456.3,118.7 427.9,116.1 393.7,223 423.4,119.3 312.8,83.3 364.1,110.2 386.1,132.2 315.7,107.8 384.5,122.6 458.2,79.3 233.7,112.9 276,65.6 402.2,102.5 429.2,153.3 272.8,142.6 311.9,107.9 228.4,114.4 259.2,125.3 348.7,122 276,163.2 399.3,126.9 435.9,94.1 304.6,55 368,68.8 387.9,104.2 461.8,119.3 372.5,165.2 343.7,113.3 355.3,126.1 439.6,129 396.7,68.9 381.2,37.2 376,98.5 355.1,94.1 372.4,89.9 438.2,60.3 366.4,114.3 301.9,120.5 397.2,114.9 269.6,118.2 444.4,145.2 356.3,123.6 361.4,88.5 266.6,138.2 435.5,111 456.9,87.6 453.6,102 291.2,112.6 439.2,76.3 389.1,162.6 430.3,151 435.4,95.6 441.9,84.5 391.3,82.1 433.3,82.1 295.8,145.4 429.9,113.2 446,158.7 364.4,125.6 355.8,116.2 446.2,60.3 281.6,112.1 374.4,175.2 441.4,125 225.5,114.2 382,75.9 306.5,57.4 398.2,62.4 440.3,117.7 237.4,111.2 434,147.3 422.1,119 387.6,213.5 310.8,101.8 285,144 429.1,102.7 394.5,55.9 307.8,110.8 386.8,114.6 422.6,108.6 371.5,73 294.8,86.3 269,149.7 272.3,151.7 365.5,81.2 240.6,107.8 390.6,181.8 368,93.7 453.2,114.6 433.6,110.1 391.8,216.3 384.2,167.3 342.6,114.5 379.7,93.5 451.8,123.6 306.5,58.5 280.2,171.2 272.3,106.3 465.5,110.4 272.4,94.1 382.2,122.8 286.2,130 427.7,101.2 461.9,121.5 380.4,199.9 434.9,101.1 288.9,66.4 284.7,87 460.2,109.4 449.1,41 316.1,112.8 382.4,137.2 431.9,98.5 346.2,119.2 300.2,120.8 292.1,83.5 292,112.3 362.4,94.9 355.8,96.1 247.8,105.6 447.1,151.5 377.4,136.1 429.7,108.3 428.6,121.2 268,79.6 435.5,169.2 292.6,64.8 314.2,111.9 393.3,121.4 254.2,124.2 457.7,105.2 384.9,137.5 227.1,114.4 347.5,119.8 391.1,167.8 274.3,62.8 382.4,91.6 388.5,150.7 356.1,121.2 382.7,84.7 378.6,83.8 248.4,113.1 264.5,138.2 347.8,118.3 301.6,121 411.1,114.1 453.5,120.3 441.1,189.3 237.4,115.3 449.8,165.7 445.6,115.6 354.3,124.2 434.5,162.9 364.4,127.9 353.8,108.8 435.3,137.9 373.9,43.8 309.1,117.4 237,112.3 443.8,183.4 248,122.2 371.8,55 371.2,98 451.3,85.1 439.2,152.5 359.8,124.6 390.9,142.5 394.6,137.2 463.2,99.3 318.7,123.8 271.9,82.2 366.5,149.9 273,149.2 291.3,125.3 452.1,127.6 384.3,148.6 317.5,105.2 390.3,76.4 463.2,129.5 307.8,118 350.3,128.4 276.9,60.1 447.6,94.8 465.4,114.9 360.6,144.8 279.5,88.4 462.3,108.6 387.9,124.6 376.2,62.4 443.3,93.4 298.8,36.8 297.5,119.7 364.2,139.4 358.9,112.7 304.6,173.8 373.9,185 407.2,117.9 443.3,135.4 442.1,113.3 431.1,154.5 393.4,177.8 437.1,169 372.4,169.5 378.5,42.2 266.6,90.6 384.2,49.1 384.9,79.4 398.2,45.2 290,110 287.6,99.7 400.1,123.4 401.8,135.5 420.6,86.5 370.4,119.6 257.4,94 452.6,66.1 444.5,115.2 403.7,139.4 255.2,103.7 290,118.8 290.3,122.2 384.6,196.1 397.8,112.1 449.8,133.1 424.5,114.8 449.1,182.2 451.5,110.1 396.8,54.5 376,127.1 293.7,137.1 389.7,181.3 455,117.8 373,99.8 260.1,136.6 395,91.6 286,116.2 251.8,113.1 386.2,195.2 304.6,103.3 447.9,75.1 365.6,147 402.6,85 436.1,163.7 379.2,137.2 291.3,180.2 447,169.4 388.9,139.2 366,156.7 243.5,118.7 453.2,158.3 359.5,136.3 348.3,115.8 455.9,117.2 306.6,125.7 430.3,128.7 276.9,130 432.1,127 384,92.3 381.5,181.5 279.4,112.8 440.4,110.4 397.2,53.8 437.2,127.2 439.2,130.8 446.1,74.4 298.1,68.8 432.5,89.6 264.9,114.2 430.4,110.5 442.3,150.7 441.6,74.3 429.2,75.5 398.2,97.4 289.5,170.6 403.2,82.5 440.2,190.7 462.5,137.3 402.4,94 254.8,131.1 439.2,60.3 397.3,38.1 464,127.3 434.9,61.9 239.9,114.7 307.7,86.5 260.6,129 310.2,79.7 370.6,125.2 346,111 227.7,114.3 392,169.1 427.1,133.5 283.5,113.8 383.2,119.5 297.1,196.9 373.7,173.8 283.7,60.2 374.7,91.6 449,164.9 389.5,222 374.4,53.6 300.9,113.5 381,165.6 438.5,62.1 447.8,82.8 398.8,111 321,114.1 422.4,110.6 273.1,156.9 306.8,44.4 296.4,182.6 386.2,42.8 283.1,75.9 369,122 290.1,47.7 260.8,122.6 453.9,66.4 444.9,188 447.3,124.6 371.4,48.4 358.2,126.8 317.1,141.9 430.9,148 297.5,109.1 437.2,56.5 441.4,118.5 455.1,110.3 443.3,88.2 459,111.9 376.2,59.3 397.8,116.7 349,107.6 449,113.4 364.8,135.7 313.8,110.8 306.1,159.4 254.8,118.5 381.2,139.8 364.5,152.1 368.8,59.2 395.3,135 285.1,106.3 311.6,126.9 362.4,97.4 454.1,102.9 447.8,131.5 309.7,85.7 367.3,142.2 458.3,86.5 302.4,175.7 290.5,154 384.9,207 440.6,91.9 359.5,92.5 426.4,89.8 287.4,34.4 254.7,108.1 393.2,79.1 376.2,169.5 266.6,143.9 297.3,114.7 371.5,155.8 270.7,95.3 438.8,171.8 370,111.6 290.1,181.1 366.3,123.3 261.7,111.6 397.7,187 450.1,129.5 389.6,124 428.1,140.1 229.6,114.3 256.1,119.5 447.8,145.7 354.4,97.2 462.6,131.5 297,190 428.7,111.6 270.8,137.9 434.5,61 396.5,192.4 370.8,113.2 437.9,76.9 458.3,142.3 398.3,117.8 293.5,130.3 371.3,142.3 395.6,88.4 443.4,162.1 262.8,119.3 465.9,110.7 295.7,76.7 368.3,118.9 276.6,129.3 404.7,100.9 440.3,111.1 237.4,117.6 443.7,172.3 284.3,168.4 295.7,73.1 295.8,75.2 390.1,78.7 270.5,142.4 450.1,99.3 437.1,118.6 373.6,53.5 422.8,105.7 360.7,98.7 381.8,70.4 290.8,68.2 436.8,68.3 456.6,137.6 265.4,84.3 347.9,115 293.3,86.4 386.6,64.8 370.3,94.6 316.5,91.7 307.7,118.3 440.6,136.3 235.4,114.1 375.6,145.7 434.1,118.1 290.1,192.2 432.4,73.8 254.8,110.3 290.2,84.6 440,119.7 370.6,50.4 289.3,84.4 464.6,121.4 418.2,93.1 453.2,78.4 281.9,92.7 291.5,205.4 431.2,92.1 460.2,119.4 288.7,183.9 444.5,150 391.8,173.3 305.2,179 381.3,174.8 307.9,149.3 379.6,121 287.5,91.8 356.3,101.6 430.9,72 391.7,168.4 372.3,71.4 433.1,114.1 310.9,69.1 432.4,73.3 274.6,112.5 276.1,82 444.9,40.8 381,102.7 459.8,135.3 312.9,146.3 460.4,132.3 449.2,165 259.8,120.2 402.4,134.8 392.8,53 255.8,101.6 438,94.4 449,115.4 443.2,141.2 347,120.5 375.8,101.8 286.2,98.8 380.5,118.5 428.7,112.5 436.3,60.3 374.1,167.1 440.7,119.5 438.3,170.5 365.6,92.3 392.8,175.8 293.1,212.5 374.5,87.6 305.6,83.1 270.7,133.5 243.5,110.1 347,108.3 433.8,77.1 431.3,154.4 442.4,76.7 459.3,120.1 368.7,146.3 305.6,118.1 407.6,120.8 295.9,89.2 389,58.5 234.7,113.5 315.7,125.6 375.7,147.4 347.6,106.6 389.2,130.7 444.5,113.6 350.5,111 284.5,163.5 426,128.5 305.6,110.7 447.6,85.6 391.1,154.2 437.5,55.7 426.9,82.1 289.5,175.2 447.3,127 388.4,138.1 298.2,71.2 440.4,97.1 392.5,57.5 319.4,106.6 352.7,126.3 295.4,137.8 433.9,166.4 416.7,114.3 456.4,122.3 429.7,135 377.7,143 262.3,137.1 241.9,120.4 291.6,102.2 350.9,124.2 307.9,70.4 276.7,63.5 366,112.9 266.9,88.5 258.1,135 442.1,118.9 293.9,183.6 293.1,95.3 394.8,40.3 364.3,142.6 433,138.9 248.1,119.6 364.8,77.4 292.6,139.6 272.8,142.9 260.1,132.6 430.4,134.3 384.5,106.2 319.4,122.2 288.5,176.3 438.1,121.4 309.6,108.4 251.1,105.7 394.1,180.9 387.2,57.3 311.7,87.6 319.5,113.2 264.5,115.4 396.8,148.3 437.5,73.6 396.4,162.4 375.5,163.1 306.7,122.4 280.8,161 303.6,117.2 398.3,123 348.7,106.8 246.3,100.5 452.4,123 389.8,174.6 434.7,83.9 441.5,118.2 448,148.1 436.8,160.5 371.3,56.6 372,86 268.2,91.1 298.5,93.7 365,125 393.8,65.9 383.3,81.9 433.2,111.6 458.5,131 366.4,114.5 254.8,120.8 390.8,71.3 422.5,107.3 237,115.4 297.1,31.9 441.3,105.2 304.3,142.5 362.4,133.9 394,195.2 405.5,97.4 377.2,49 302.2,176.8 464.6,107.4 437.5,173.1 429.5,90.8 362.4,102.5 379.6,107.8 391.3,130.5 388.8,38.3 397.2,113.9 317.4,114.7 381.1,139.1 395,202.9 442.1,49.5 293.8,117.4 431.1,74.3 443.2,85.5 284.3,142.1 372.3,89.5 440.5,60.5 289.2,50.9 318.7,105 387.6,15.3 255.8,120.9 310.1,82.3 459.3,108.7 284.5,169.9 426.8,103.3 359.5,87.2 247.8,123.2 375.4,115.3 306.8,165.4 254.7,120.7 284.7,126.2 441.2,100.3 404.7,109.7 336,114.4 271.1,70.9 439.5,47.4 365.7,73.7 265.4,144.5 426.4,139 452.3,82.1 443.7,127.7 407.2,110.9 392.5,69.6 459,128.7 389.9,127.8 405.7,101.4 434.9,141.8 443.3,49.3 345.4,115.4 347.5,109 372,142.8 362.5,125.7 267.3,117.7 345.4,120 387,73.7 266.5,113.8 401.8,93.3 436.3,168.5 368,120.3 452.6,149.5 280.4,172 378.7,100.9 444.4,83.6 439.4,102.6 439,93.8 430.1,75.4 384.3,80.2 455.4,75.8 397.3,190.7 407.9,115.8 437,178.2 384.9,149.4 313.9,131.5 312.8,145.5 398.5,88.3 450.7,125.4 237.2,117.2 275.7,83.4 425.8,105.4 371.8,165.2 388.1,116.8 389.2,117.9 428.8,135 390.5,89.7 261.9,126.8 282.1,106.9 252.6,110.4 395.1,72.1 398.2,183.6 251.4,120.9 388.1,112 433.3,114.7 402.4,145.3 437.9,151.9 381.7,139.9 391.3,98.3 301.6,80.1 288.7,136.2 257.5,97 277.7,157.8 360.7,99.3 353.8,120 447.8,97.3 455.1,118.5 278.8,80 289.6,44.3 290.5,74.8 350.9,104.6 430.9,64.7 308.8,135.4 457.4,129.2 393,138.7 276.2,159.6 287.6,129.1 277,156.1 309.5,112.9 390.6,47 368.7,69.2 301.4,123.5 296,83.4 389.2,27.5 257.4,134.8 303.1,54.3 461.9,107.3 264.4,107.2 263,124.7 454.6,130.1 310.8,148.6 448.6,79.7 255.3,120.3 404.6,125.8 237.4,113.5 383.5,132 400.3,108.2 447.3,104.2 243.5,104.5 271.1,157.9 398.2,131.4 277,63.2 395.8,121.4 386.5,21.4 299.2,57.1 372.4,80.6 437.8,99.9 358.5,118.6 404.7,108.2 374.7,98.4 425.6,112.4 240.6,110.5 376,148 436,113.8 276.7,165.3 425.6,116.4 268.7,109.4 373.1,79.5 366.6,161.2 403.8,82.9 426.8,116.5 239.9,114.1 366,72.1 304.5,157.9 455.3,88.7 406.2,127.6 391.8,12.5 266.3,131 260.1,115 306.8,63.4 446.5,109.6 265.5,111.3 373,161.4 453.3,68.3 383.5,29.2 382,67.9 445,181 286.9,159.9 435.5,59.6 306.1,87.8 422,116.6 306.2,58.6 447.9,106.4 406.5,118.4 462.3,120.2 233.7,115.9 348.2,122.5 434.3,128.2 376.1,43.3 366.9,74.9 404.7,120.6 454.5,117.7 304.5,72.6 288.6,142.4 308.5,170.4 312,152.7 450.6,123.3 372.5,88 305.6,145.7 290.3,106.6 441.7,158.2 344.1,111.5 396.5,36.4 272.8,85.9 389,193.9 381,103.7 445.6,93.5 291.7,116.2 447,120.9 268.5,137.5 287.7,168.4 315.3,141.2 296.1,185.7 436.3,159.5 381.9,50.1 360.6,84 440.6,148.3 260.1,109.7 410.2,114.4 381,145.7 253.7,124.4 249.1,115.8 440.6,93.8 443.6,157.6 372.5,140.8 284.9,90.7 465,114.6 355.5,116.4 384.9,21.8 460.6,87.4 284.3,86.7 284.2,117.1 391.1,32.5 254.4,133.3 395,137.2 457,130 419.3,116.7 347.9,113.8 255.8,127.2 452.1,128.5 425.1,106.6 442.3,167.8 440.1,104.6 299.6,87.2 298.6,148.7 291.9,39.8 313.8,121.6 440.1,97.3 350.3,100.4 366.3,70.2 459.3,106.2 438.8,164.6 452.8,69.3 358.4,98.5 360.9,143.5 374.2,90.1 278.8,129.9 435.1,81.4 389.1,190.5 390.3,152.4 310.3,95.3 398.4,44.1 291.5,65.8 304.2,123.6 396.3,121.9 238.8,120.6 455.8,76.9 445.3,168.3 425.5,122.9 427.6,84.9 291.2,134.3 382,152.9 369.8,92.7 454.1,114.5 428.8,115.1 252.6,118.4 451.3,143.7 276.6,136.9 447.5,158.8 363.2,111.9 300.1,121 385.8,185.8 441,113.6 289.4,98.5 438.6,125.7 378.7,127.9 251.8,115.7 276.6,110 393.8,41.1 375.1,44.4 286.5,86.8 381.5,178.5 401.7,80.2 352.6,130.9 239.7,107.2 441.5,48.7 362.7,84.3 439.4,126.2 426.4,128.1 444.4,96.5 441.8,59.1 364.8,93.1 461,100.3 283.7,168.6 444.3,6.8 367.7,156.5 364.6,109.8 268.5,107.9 269,79.1 400.4,130.6 448,161 359,93.4 442.6,139.9 386.6,164 280.2,127.4 310,129.2 249.9,113.6 295.2,90.8 448.1,67.1 438,134.4 454.9,90.1 277.5,128.7 448.4,127.1 440.4,118.4 398.9,78.3 395.2,16.3 261.1,113.1 455,88.1 304.9,89.1 304.2,87.6 285.5,111.9 444.3,222 449.3,58.6 260.2,112.1 447.4,175.3 262.7,121.9 372.6,179.5 291.3,48.6 451,91.1 447,107.9 364.4,101.9 272,114.2 458.7,109.9 402.2,154.5 274.4,146.5 294.3,70.7 274.2,105.8 435.5,117.8 390.5,110.1 226.6,114.1 365.3,83 455.8,151.9 299,122 372.6,59.7 439.8,146.9 364.9,148.6 306.3,100.6 287.5,137 453.3,144.5 446.4,58.7 308.8,93.4 264.9,84.9 231.6,114.7 440.4,131.7 294.3,158.1 266.4,114.9 239.7,121.6 306.3,133.1 447.1,122 434.9,127.7 404.8,96.4 297.8,92.6 287.1,184.6 270.9,98.5 420.5,112.8 256.4,99.4 298.6,170.5 443.2,109.3 445.8,87.1 443.8,59 443.9,102 315.8,101.2 444.8,186.2 395.2,212.5 447.3,61.6 270.6,120.5 435.9,134.7 460.1,96 384.2,61.5 223.9,114.5 296.4,55.9 257.7,122.8 259.8,108.6 342.6,114.3 273,75.9 432.6,158.3 294.4,63.8 295,162.5 381.5,126.1 458.5,97.8 250.3,127.9 288.6,47.7 306.8,184.4 420.2,115.9 423.4,109.5 449.3,170.2 275.8,131.4 252,116.7 306.1,69.4 400.7,134 303.8,134.8 438.4,121.8 404,145.6 238.8,119.3 283.5,121.9 367,118.3 448,141 432.6,70.5 438.5,74.3 242.7,115.9 403.4,149.9 379.7,98.2 441.2,128.5 461.1,120.5 374.1,119.1 392.4,95.2 303,117.1 247.6,101 447.3,79.7 270.1,128.7 354.3,104.6 280.5,63.9 402.1,87.3 447.2,177 390.5,209.9 404.7,127.9 372.3,105.4 447.1,77.3 456.4,106.5 440,161.3 359,135.4 393,90.1 418.8,114.1 360.1,118.6 449.5,139.1 373.2,77.9 310.4,132.2 448,67.8 438.3,124.2 311.9,120.9 374.6,146.6 382.4,131.7 294.5,200.4 447.2,126.8 442.1,109.9 294.8,142.5 392.4,133.6 371.6,79 437.4,138 386.5,93 395.4,76.6 394.5,172.9 424.5,114 274.3,166 379.7,131.7 296.5,26.4 353.6,124.7 274.8,122.1 385.5,76.8 230.5,114.5 381.4,39.6 398.9,95.6 297.5,123 428.8,113.7 293,168.8 386.2,184.9 422.5,121.5 295.8,83.4 447.5,136.7 313.1,92.4 383.8,61.2 303.8,94 384.9,95 441.4,167.8 381,83.1 391.7,60.4 273.1,121.7 382,160.9 437.2,101.6 394.8,188.5 445.7,160.3 431.3,83.3 345.4,113.4 275.8,97.4 275.1,143.9 434.4,85.1 450.7,155.6 369.6,131.4 363,118 306.6,65.3 358.2,112.9 283.1,152.9 394.1,108.4 446.7,157.5 247.5,128.9 310.7,124 401.8,114.6 404.8,132.4 457,98.3 438.1,107.4 368.8,107 433.8,151.7 393.7,5.8 286.5,142 448.4,101.7 434.1,110.7 442.3,67.1 396.4,66.4 292.6,164 306.5,171.4 427.1,144.4 436,47.8 463.3,129.7 435.9,169.1 388.6,128.2 306.3,95.7 393,23.4 368.6,144.4 299.3,88.1 390.7,63.5 428.8,93.8 349,106.3 432.7,66.5 453.5,73.7 295,66.3 453.4,75.9 439.1,153.9 403.8,119.1 272.2,98.8 357.4,98.6 278.6,147.5 442.4,152.1 420.2,112.9 462.5,91.5 317.3,94.5 258.4,108.6 392.7,159 300.3,192.3 278.6,81.3 386.8,67.8 296.4,172.9 368,108.5 288.6,178.7 381.5,47.3 453.7,67.3 435.7,87 260.1,132.6 368.8,121.8 449.1,100.6 447.3,165.9 280.2,101.4 446,125.1 447.3,149.1 315.7,103.2 435.3,90.9 314.5,103.4 293.6,106 298.6,80.1 375.2,57 368.6,168 268,94.2 261.7,117.2 454.5,111.1 438.2,114 386.5,207.4 398.4,139.6 310,99.6 439.3,59.2 280.2,110.7 401.4,138.8 300,85.3 460.4,96.5 287.4,78.9 393.2,170.6 391.5,124.7 224.8,114.3 389.1,66.2 368.8,72.2 307.1,166.8 402.1,141.5 464.7,122.3 304.9,139.7 271.2,127.9 241.8,108.7 395.6,140.4 286.2,90.5 466.6,118.9 299.1,179.4 234.7,115.3 235.3,115.8 284.9,138.1 392,59.7 430.4,94.5 338,114.4 440,109.1 349,121.2 242.7,112.9 393.8,120.1 359.6,141 370.6,178.4 450.5,98.3 371.3,140.8 304.7,106.6 403.8,125.5 289.7,85.9 270.1,71.4 457.2,129.4 453.2,70.5 399.6,170 434.7,97.5 424.5,113.6 460,102.7 390.1,184.1 431.1,119.5 231.6,114.4 298.8,192 400.3,120.6 389.5,6.8 443.6,71.2 433.7,156.2 243.8,126.1 277.3,124 433.7,94.5 447.7,45.4 450.3,74.1 451.9,138.5 371.3,108.5 449.7,97.5 387.2,171.5 311.5,52.9 307.1,139.5 446.6,134.6 384.5,115.3 380.6,198.9 368.8,156.6 447.9,156.6 306.5,152.9 343.7,111.2 345.4,108.8 431.4,101.4 373.1,83.8 449.8,95.7 451.5,160.2 443.2,119.5 386.4,95.6 317,115.8 437.9,82.2 306.7,106.4 258.1,93.8 448.8,80.6 371.3,88 295.8,153.6 264.8,133.9 358.8,88.7 295.4,190.4 268,149.2 398.8,117.8 292.2,71.5 272.6,154.9 301,170.5 269.3,104.4 366.1,112.8 406.3,107.2 447.1,97.5 435.5,160.6 372.3,139.3 251.5,126 316.5,137.1 374.1,109.7 446.9,79.3 241,111.1 366.3,158.6 276.6,91.9 455,111 298.1,55 431.9,138.7 442.6,60.1 264.5,90.6 362.5,103.1 457.6,79.9 404,83.2 433.3,159 443.3,140.6 436.4,68.2 306.2,170.2 432.5,139.2 439.6,99.8 442.7,92.8 356.4,125.3 250.3,100.9 450.6,105.5 461.2,111.2 315.8,127.6 243.5,124.3 396.3,120.9 283.4,177.5 431.4,68.7 264.2,132.2 269.6,110.6 260.8,106.2 301,157.6 436.4,49.5 396.3,106.9 366.5,78.9 427.3,141 380.5,110.3 346.2,109.6 387.7,97.1 394.9,115 384.6,129.5 240,118.3 251.5,102.8 401.1,84.3 441.4,110.3 430.2,136 436.2,141.7 381,126.1 293.5,98.5 275.1,84.9 461.2,117.6 374.2,72.6 282.6,99.1 225.3,114.6 293,151 273.1,107.1 371.8,63.6 362.6,114.6 256,108.4 374.7,130.4 378.8,73 364.8,151.4 292.4,31.2 351.4,117.7 432.7,162.3 289.8,108.5 381.6,137.5 447.6,98 398.4,127.8 293,77.8 447.4,53.5 310.9,159.7 446.5,81.9 390.9,204.5 455.4,153 277.5,100.1 423.3,115.5 383.1,174.3 245.6,126.2 289.4,130.3 374.5,128.5 385.4,91.5 381.2,89 403.2,125.5 461.8,114 381.8,158.4 437.7,109.3 376.1,185.5 436.1,65.1 291.2,94.5 343.7,112.6 394.5,97.1 450.2,65.5 393.8,187.7 383.8,177.5 284.5,65.3 433.7,72.6 403.8,145.9 444.5,78.8 280.2,57.6 276.1,151.1 284.3,106.5 447.6,143.2 449.1,128.2 289.5,58.2 301.6,107.8 391.4,108 446.1,170 310.3,156.1 441.7,153.3 288.6,181.1 369,93.1 293.1,133.5 355.6,113.8 440.1,131.5 274.4,97.8 273.1,160.7 358.2,102 436.4,91.4 393.1,48 385.4,137.3 288.2,223.6 440.7,147.1 437.7,119.5 384.4,122.7 383.1,54.5 384.8,144.3 426.3,97.4 286.2,138.3 464,101.5 463.7,105.3 441.3,123.6 313.1,136.4 454.3,128.1 360.7,130.1 266.6,84.9 304.7,122.2 460,101.8 293.3,142.4 420.6,142.3 445.8,141.7 380.7,181.8" fill="none" stroke="none" marker-start="url(#mr)" marker-mid="url(#mr)" marker-end="url(#mr)"/>
<path d="M31.90 536.30v-3.40M31.90 313.40v3.40M63.42 536.30v-3.40M63.42 313.40v3.40M94.94 536.30v-3.40M94.94 313.40v3.40M126.47 536.30v-3.40M126.47 313.40v3.40M157.99 536.30v-3.40M157.99 313.40v3.40M189.51 536.30v-3.40M189.51 313.40v3.40M221.03 536.30v-3.40M221.03 313.40v3.40M252.56 536.30v-3.40M252.56 313.40v3.40M284.08 536.30v-3.40M284.08 313.40v3.40M315.60 536.30v-3.40M315.60 313.40v3.40M31.80 536.65h3.40M315.50 536.65h-3.40M31.80 508.79h3.40M315.50 508.79h-3.40M31.80 480.92h3.40M315.50 480.92h-3.40M31.80 453.06h3.40M315.50 453.06h-3.40M31.80 425.20h3.40M315.50 425.20h-3.40M31.80 397.34h3.40M315.50 397.34h-3.40M31.80 369.48h3.40M315.50 369.48h-3.40M31.80 341.61h3.40M315.50 341.61h-3.40M31.80 313.75h3.40M315.50 313.75h-3.40" stroke="#262626" stroke-width="1" fill="none"/>
<rect x="31.80" y="313.40" width="283.70" height="222.90" fill="none" stroke="#262626" stroke-width="1"/>
<g class="tk">
<text x="30.80" y="549.60" text-anchor="middle">-3</text>
<text x="62.32" y="549.60" text-anchor="middle">-2</text>
<text x="93.84" y="549.60" text-anchor="middle">-1</text>
<text x="125.37" y="549.60" text-anchor="middle">0</text>
<text x="156.89" y="549.60" text-anchor="middle">1</text>
<text x="188.41" y="549.60" text-anchor="middle">2</text>
<text x="219.93" y="549.60" text-anchor="middle">3</text>
<text x="251.46" y="549.60" text-anchor="middle">4</text>
<text x="282.98" y="549.60" text-anchor="middle">5</text>
<text x="314.50" y="549.60" text-anchor="middle">6</text>
<text x="27.60" y="540.10" text-anchor="end">-2.0</text>
<text x="27.60" y="512.24" text-anchor="end">-1.5</text>
<text x="27.60" y="484.37" text-anchor="end">-1.0</text>
<text x="27.60" y="456.51" text-anchor="end">-0.5</text>
<text x="27.60" y="428.65" text-anchor="end">0</text>
<text x="27.60" y="400.79" text-anchor="end">0.5</text>
<text x="27.60" y="372.93" text-anchor="end">1.0</text>
<text x="27.60" y="345.06" text-anchor="end">1.5</text>
<text x="27.60" y="317.20" text-anchor="end">2.0</text>
<text x="31.20" y="311.70" style="font-size:11.5px;stroke-width:0">×</text><text x="38.80" y="311.30">10</text><text x="47.70" y="307.20" style="font-size:7.6px">-3</text>
</g>
<text class="lb" x="173.65" y="563.20" text-anchor="middle">Real</text>
<text class="lb" transform="translate(8.00 424.75) rotate(-90)" text-anchor="middle">Imaginary</text>
<polyline points="39.5,425.2 65.6,425.2 73.2,425.2 78.9,425.2 82.7,425.2 88,425.2 91.5,425.2 93.7,425.2 95.3,425.2 89.9,425.2 92.7,425.2 111,425.2 120.3,425.2 147.6,425.2 156.7,425.2 158.3,425.2 303,425.2 92.9,320.4 92.9,530 93.7,357.8 93.7,492.6" fill="none" stroke="none" marker-start="url(#mb)" marker-mid="url(#mb)" marker-end="url(#mb)"/>
<path d="M397.60 536.30v-3.40M397.60 313.40v3.40M444.85 536.30v-3.40M444.85 313.40v3.40M492.10 536.30v-3.40M492.10 313.40v3.40M539.35 536.30v-3.40M539.35 313.40v3.40M586.60 536.30v-3.40M586.60 313.40v3.40M633.85 536.30v-3.40M633.85 313.40v3.40M681.10 536.30v-3.40M681.10 313.40v3.40M397.50 536.65h3.40M681.00 536.65h-3.40M397.50 499.50h3.40M681.00 499.50h-3.40M397.50 462.35h3.40M681.00 462.35h-3.40M397.50 425.20h3.40M681.00 425.20h-3.40M397.50 388.05h3.40M681.00 388.05h-3.40M397.50 350.90h3.40M681.00 350.90h-3.40M397.50 313.75h3.40M681.00 313.75h-3.40" stroke="#262626" stroke-width="1" fill="none"/>
<rect x="397.50" y="313.40" width="283.50" height="222.90" fill="none" stroke="#262626" stroke-width="1"/>
<g class="tk">
<text x="396.50" y="549.60" text-anchor="middle">-10</text>
<text x="443.75" y="549.60" text-anchor="middle">-5</text>
<text x="491.00" y="549.60" text-anchor="middle">0</text>
<text x="538.25" y="549.60" text-anchor="middle">5</text>
<text x="585.50" y="549.60" text-anchor="middle">10</text>
<text x="632.75" y="549.60" text-anchor="middle">15</text>
<text x="680.00" y="549.60" text-anchor="middle">20</text>
<text x="393.30" y="540.10" text-anchor="end">-6</text>
<text x="393.30" y="502.95" text-anchor="end">-4</text>
<text x="393.30" y="465.80" text-anchor="end">-2</text>
<text x="393.30" y="428.65" text-anchor="end">0</text>
<text x="393.30" y="391.50" text-anchor="end">2</text>
<text x="393.30" y="354.35" text-anchor="end">4</text>
<text x="393.30" y="317.20" text-anchor="end">6</text>
<text x="396.90" y="311.70" style="font-size:11.5px;stroke-width:0">×</text><text x="404.50" y="311.30">10</text><text x="413.40" y="307.20" style="font-size:7.6px">-3</text>
</g>
<text class="lb" x="539.25" y="563.20" text-anchor="middle">Real</text>
<text class="lb" transform="translate(380.10 424.75) rotate(-90)" text-anchor="middle">Imaginary</text>
<polyline points="438,425.2 458.1,425.2 460.7,425.2 466.6,425.2 469.4,425.2 472.7,425.2 474.9,425.2 476.5,425.2 471.3,425.2 473.7,425.2 485.2,425.2 491.2,425.2 495.7,425.2 497.9,425.2 500,425.2 501.8,425.2 496.8,425.2 498.9,425.2 512.8,425.2 515,425.2 671.7,425.2 476,331.8 476,518.6 476,400.5 476,449.9 497.9,420.4 497.9,430 497.9,423 497.9,427.4" fill="none" stroke="none" marker-start="url(#mb)" marker-mid="url(#mb)" marker-end="url(#mb)"/>
<path d="M31.90 848.30v-3.40M31.90 625.40v3.40M79.18 848.30v-3.40M79.18 625.40v3.40M126.47 848.30v-3.40M126.47 625.40v3.40M173.75 848.30v-3.40M173.75 625.40v3.40M221.03 848.30v-3.40M221.03 625.40v3.40M268.32 848.30v-3.40M268.32 625.40v3.40M315.60 848.30v-3.40M315.60 625.40v3.40M31.80 848.30h3.40M315.50 848.30h-3.40M31.80 820.44h3.40M315.50 820.44h-3.40M31.80 792.57h3.40M315.50 792.57h-3.40M31.80 764.71h3.40M315.50 764.71h-3.40M31.80 736.85h3.40M315.50 736.85h-3.40M31.80 708.99h3.40M315.50 708.99h-3.40M31.80 681.12h3.40M315.50 681.12h-3.40M31.80 653.26h3.40M315.50 653.26h-3.40M31.80 625.40h3.40M315.50 625.40h-3.40" stroke="#262626" stroke-width="1" fill="none"/>
<rect x="31.80" y="625.40" width="283.70" height="222.90" fill="none" stroke="#262626" stroke-width="1"/>
<g class="tk">
<text x="30.80" y="861.60" text-anchor="middle">-3</text>
<text x="78.08" y="861.60" text-anchor="middle">-2</text>
<text x="125.37" y="861.60" text-anchor="middle">-1</text>
<text x="172.65" y="861.60" text-anchor="middle">0</text>
<text x="219.93" y="861.60" text-anchor="middle">1</text>
<text x="267.22" y="861.60" text-anchor="middle">2</text>
<text x="314.50" y="861.60" text-anchor="middle">3</text>
<text x="27.60" y="851.75" text-anchor="end">-2.0</text>
<text x="27.60" y="823.89" text-anchor="end">-1.5</text>
<text x="27.60" y="796.02" text-anchor="end">-1.0</text>
<text x="27.60" y="768.16" text-anchor="end">-0.5</text>
<text x="27.60" y="740.30" text-anchor="end">0</text>
<text x="27.60" y="712.44" text-anchor="end">0.5</text>
<text x="27.60" y="684.58" text-anchor="end">1.0</text>
<text x="27.60" y="656.71" text-anchor="end">1.5</text>
<text x="27.60" y="628.85" text-anchor="end">2.0</text>
</g>
<text class="lb" x="173.65" y="875.20" text-anchor="middle">Real</text>
<text class="lb" transform="translate(6.90 735.15) rotate(-90)" text-anchor="middle">Imaginary</text>
<polyline points="66.9,736.8 172.8,736.8 221,736.8 222.5,736.8 281.1,736.8 139.7,734.1 139.7,739.6 255.6,734.1 255.6,739.6 197.4,649.4 197.4,824.3 197.4,657.7 197.4,816 197.4,664.4 197.4,809.3 197.4,673.3 197.4,800.4 197.4,676.7 197.4,797 197.4,681.1 197.4,792.6 197.4,684.5 197.4,789.2 197.4,687.3 197.4,786.4 197.4,688.9 197.4,784.8 197.4,710.7 197.4,763" fill="none" stroke="none" marker-start="url(#mb)" marker-mid="url(#mb)" marker-end="url(#mb)"/>
<path d="M397.60 848.30v-3.40M397.60 625.40v3.40M429.10 848.30v-3.40M429.10 625.40v3.40M460.60 848.30v-3.40M460.60 625.40v3.40M492.10 848.30v-3.40M492.10 625.40v3.40M523.60 848.30v-3.40M523.60 625.40v3.40M555.10 848.30v-3.40M555.10 625.40v3.40M586.60 848.30v-3.40M586.60 625.40v3.40M618.10 848.30v-3.40M618.10 625.40v3.40M649.60 848.30v-3.40M649.60 625.40v3.40M681.10 848.30v-3.40M681.10 625.40v3.40M397.50 848.30h3.40M681.00 848.30h-3.40M397.50 811.15h3.40M681.00 811.15h-3.40M397.50 774.00h3.40M681.00 774.00h-3.40M397.50 736.85h3.40M681.00 736.85h-3.40M397.50 699.70h3.40M681.00 699.70h-3.40M397.50 662.55h3.40M681.00 662.55h-3.40M397.50 625.40h3.40M681.00 625.40h-3.40" stroke="#262626" stroke-width="1" fill="none"/>
<rect x="397.50" y="625.40" width="283.50" height="222.90" fill="none" stroke="#262626" stroke-width="1"/>
<g class="tk">
<text x="396.50" y="861.60" text-anchor="middle">-0.6</text>
<text x="428.00" y="861.60" text-anchor="middle">-0.4</text>
<text x="459.50" y="861.60" text-anchor="middle">-0.2</text>
<text x="491.00" y="861.60" text-anchor="middle">0</text>
<text x="522.50" y="861.60" text-anchor="middle">0.2</text>
<text x="554.00" y="861.60" text-anchor="middle">0.4</text>
<text x="585.50" y="861.60" text-anchor="middle">0.6</text>
<text x="617.00" y="861.60" text-anchor="middle">0.8</text>
<text x="648.50" y="861.60" text-anchor="middle">1.0</text>
<text x="680.00" y="861.60" text-anchor="middle">1.2</text>
<text x="393.30" y="851.75" text-anchor="end">-3</text>
<text x="393.30" y="814.60" text-anchor="end">-2</text>
<text x="393.30" y="777.45" text-anchor="end">-1</text>
<text x="393.30" y="740.30" text-anchor="end">0</text>
<text x="393.30" y="703.15" text-anchor="end">1</text>
<text x="393.30" y="666.00" text-anchor="end">2</text>
<text x="393.30" y="628.85" text-anchor="end">3</text>
</g>
<text class="lb" x="539.25" y="875.20" text-anchor="middle">Real</text>
<text class="lb" transform="translate(376.80 735.15) rotate(-90)" text-anchor="middle">Imaginary</text>
<polyline points="412.1,629.1 570.4,845 513.5,736.8 627.1,736.8 627.9,736.8 649.4,736.8 553.8,693.4 553.8,780.3 587.2,693.4 587.2,780.3 570.9,712.7 570.9,761 571.6,714.6 571.6,759.1 570.4,716.4 570.4,757.3 570.9,718.3 570.9,755.4 571.3,719.8 571.3,753.9 570.4,727.2 570.4,746.5" fill="none" stroke="none" marker-start="url(#mb)" marker-mid="url(#mb)" marker-end="url(#mb)"/>
<path d="M31.90 1160.30v-3.40M31.90 936.90v3.40M88.64 1160.30v-3.40M88.64 936.90v3.40M145.38 1160.30v-3.40M145.38 936.90v3.40M202.12 1160.30v-3.40M202.12 936.90v3.40M258.86 1160.30v-3.40M258.86 936.90v3.40M315.60 1160.30v-3.40M315.60 936.90v3.40M31.80 1160.30h3.40M315.50 1160.30h-3.40M31.80 1132.38h3.40M315.50 1132.38h-3.40M31.80 1104.45h3.40M315.50 1104.45h-3.40M31.80 1076.52h3.40M315.50 1076.52h-3.40M31.80 1048.60h3.40M315.50 1048.60h-3.40M31.80 1020.67h3.40M315.50 1020.67h-3.40M31.80 992.75h3.40M315.50 992.75h-3.40M31.80 964.83h3.40M315.50 964.83h-3.40M31.80 936.90h3.40M315.50 936.90h-3.40" stroke="#262626" stroke-width="1" fill="none"/>
<rect x="31.80" y="936.90" width="283.70" height="223.40" fill="none" stroke="#262626" stroke-width="1"/>
<g class="tk">
<text x="30.80" y="1173.60" text-anchor="middle">-0.5</text>
<text x="87.54" y="1173.60" text-anchor="middle">0</text>
<text x="144.28" y="1173.60" text-anchor="middle">0.5</text>
<text x="201.02" y="1173.60" text-anchor="middle">1.0</text>
<text x="257.76" y="1173.60" text-anchor="middle">1.5</text>
<text x="314.50" y="1173.60" text-anchor="middle">2.0</text>
<text x="27.60" y="1163.75" text-anchor="end">-0.8</text>
<text x="27.60" y="1135.83" text-anchor="end">-0.6</text>
<text x="27.60" y="1107.90" text-anchor="end">-0.4</text>
<text x="27.60" y="1079.97" text-anchor="end">-0.2</text>
<text x="27.60" y="1052.05" text-anchor="end">0</text>
<text x="27.60" y="1024.12" text-anchor="end">0.2</text>
<text x="27.60" y="996.20" text-anchor="end">0.4</text>
<text x="27.60" y="968.28" text-anchor="end">0.6</text>
<text x="27.60" y="940.35" text-anchor="end">0.8</text>
</g>
<text class="lb" x="173.65" y="1187.20" text-anchor="middle">Real</text>
<text class="lb" transform="translate(8.00 1047.60) rotate(-90)" text-anchor="middle">Imaginary</text>
<polyline points="74.4,951.4 74.4,1145.8 116.1,955.8 116.1,1141.4 118.7,957.1 118.7,1140.1 130,964 130,1133.2 131.8,965.3 131.8,1131.9 133.5,966.8 133.5,1130.4 135.2,968.2 135.2,1129 136.9,969.8 136.9,1127.4 138.6,971.3 138.6,1125.9 140.2,973 140.2,1124.2 141.3,974.1 141.3,1123.1 142.3,975.2 142.3,1122 143.4,976.4 143.4,1120.8 144.4,977.6 144.4,1119.6 145.2,978.5 145.2,1118.7 145.8,979.3 145.8,1117.9 160.2,1003.9 160.2,1093.3 168.3,1036.7 168.3,1060.5 109.5,1048.6 123.9,1048.6 134,1048.6 202.1,1048.6 230,1048.6 270,1048.6 282.7,1048.6" fill="none" stroke="none" marker-start="url(#mb)" marker-mid="url(#mb)" marker-end="url(#mb)"/>
<path d="M397.60 1160.30v-3.40M397.60 936.90v3.40M444.85 1160.30v-3.40M444.85 936.90v3.40M492.10 1160.30v-3.40M492.10 936.90v3.40M539.35 1160.30v-3.40M539.35 936.90v3.40M586.60 1160.30v-3.40M586.60 936.90v3.40M633.85 1160.30v-3.40M633.85 936.90v3.40M681.10 1160.30v-3.40M681.10 936.90v3.40M397.50 1160.40h3.40M681.00 1160.40h-3.40M397.50 1138.06h3.40M681.00 1138.06h-3.40M397.50 1115.72h3.40M681.00 1115.72h-3.40M397.50 1093.38h3.40M681.00 1093.38h-3.40M397.50 1071.04h3.40M681.00 1071.04h-3.40M397.50 1048.70h3.40M681.00 1048.70h-3.40M397.50 1026.36h3.40M681.00 1026.36h-3.40M397.50 1004.02h3.40M681.00 1004.02h-3.40M397.50 981.68h3.40M681.00 981.68h-3.40M397.50 959.34h3.40M681.00 959.34h-3.40M397.50 937.00h3.40M681.00 937.00h-3.40" stroke="#262626" stroke-width="1" fill="none"/>
<rect x="397.50" y="936.90" width="283.50" height="223.40" fill="none" stroke="#262626" stroke-width="1"/>
<g class="tk">
<text x="396.50" y="1173.60" text-anchor="middle">-1.0</text>
<text x="443.75" y="1173.60" text-anchor="middle">-0.8</text>
<text x="491.00" y="1173.60" text-anchor="middle">-0.6</text>
<text x="538.25" y="1173.60" text-anchor="middle">-0.4</text>
<text x="585.50" y="1173.60" text-anchor="middle">-0.2</text>
<text x="632.75" y="1173.60" text-anchor="middle">0</text>
<text x="680.00" y="1173.60" text-anchor="middle">0.2</text>
<text x="393.30" y="1163.85" text-anchor="end">-5</text>
<text x="393.30" y="1141.51" text-anchor="end">-4</text>
<text x="393.30" y="1119.17" text-anchor="end">-3</text>
<text x="393.30" y="1096.83" text-anchor="end">-2</text>
<text x="393.30" y="1074.49" text-anchor="end">-1</text>
<text x="393.30" y="1052.15" text-anchor="end">0</text>
<text x="393.30" y="1029.81" text-anchor="end">1</text>
<text x="393.30" y="1007.47" text-anchor="end">2</text>
<text x="393.30" y="985.13" text-anchor="end">3</text>
<text x="393.30" y="962.79" text-anchor="end">4</text>
<text x="393.30" y="940.45" text-anchor="end">5</text>
<text x="396.90" y="935.20" style="font-size:11.5px;stroke-width:0">×</text><text x="404.50" y="934.80">10</text><text x="413.40" y="930.70" style="font-size:7.6px">-5</text>
</g>
<text class="lb" x="539.25" y="1187.20" text-anchor="middle">Real</text>
<text class="lb" transform="translate(375.50 1047.50) rotate(-90)" text-anchor="middle">Imaginary</text>
<polyline points="399.5,1048.7 635.7,1048.7 635.7,949.3 635.7,1148.1 635.7,951.5 635.7,1145.9 635.7,953.8 635.7,1143.6 635.7,956 635.7,1141.4 635.7,968.3 635.7,1129.1 635.7,996.2 635.7,1101.2 635.7,1044.2 635.7,1053.2 635.7,1046.9 635.7,1050.5" fill="none" stroke="none" marker-start="url(#mb)" marker-mid="url(#mb)" marker-end="url(#mb)"/>
<g class="cap"><text x="315.5" y="285.3" textLength="25.7" lengthAdjust="spacingAndGlyphs">(a)</text><text class="i n" x="349.5" y="285.3" textLength="17.5" lengthAdjust="spacingAndGlyphs" style="font-size:24px">A</text><text x="367.3" y="288.6" textLength="7.7" lengthAdjust="spacingAndGlyphs" style="font-size:14.8px">2</text></g>
<g class="cap"><text x="112.7" y="596.6" textLength="26.3" lengthAdjust="spacingAndGlyphs">(b)</text><text class="i n" x="151.3" y="596.6" textLength="18.9" lengthAdjust="spacingAndGlyphs" style="font-size:23px">P</text><text class="i n" x="170.5" y="603.0" textLength="12.3" lengthAdjust="spacingAndGlyphs" style="font-size:14.8px">D</text><text x="172.6" y="587.3" textLength="18.4" lengthAdjust="spacingAndGlyphs" style="font-size:14.8px">−1</text><text class="i n" x="194.5" y="596.6" textLength="16.4" lengthAdjust="spacingAndGlyphs" style="font-size:24px">A</text><text x="211.2" y="599.9" textLength="7.8" lengthAdjust="spacingAndGlyphs" style="font-size:14.8px">2</text></g>
<g class="cap"><text x="472.7" y="596.6" textLength="24.3" lengthAdjust="spacingAndGlyphs">(c)</text><text class="i n" x="508.2" y="596.6" textLength="20.0" lengthAdjust="spacingAndGlyphs" style="font-size:23px">P</text><text class="i n" x="528.5" y="603.0" textLength="16.3" lengthAdjust="spacingAndGlyphs" style="font-size:14.8px">T<tspan style="font-style:normal">1</tspan></text><text x="530.5" y="587.3" textLength="18.4" lengthAdjust="spacingAndGlyphs" style="font-size:14.8px">−1</text><text class="i n" x="552.1" y="596.6" textLength="16.7" lengthAdjust="spacingAndGlyphs" style="font-size:24px">A</text><text x="569.1" y="599.9" textLength="7.9" lengthAdjust="spacingAndGlyphs" style="font-size:14.8px">2</text></g>
<g class="cap"><text x="111.3" y="907.6" textLength="27.1" lengthAdjust="spacingAndGlyphs">(d)</text><text class="i n" x="149.2" y="907.6" textLength="20.0" lengthAdjust="spacingAndGlyphs" style="font-size:23px">P</text><text class="i n" x="169.5" y="914.0" textLength="19.4" lengthAdjust="spacingAndGlyphs" style="font-size:14.8px">T<tspan style="font-style:normal">2</tspan></text><text x="171.5" y="898.3" textLength="18.4" lengthAdjust="spacingAndGlyphs" style="font-size:14.8px">−1</text><text class="i n" x="193.5" y="907.6" textLength="16.4" lengthAdjust="spacingAndGlyphs" style="font-size:24px">A</text><text x="210.2" y="910.9" textLength="8.4" lengthAdjust="spacingAndGlyphs" style="font-size:14.8px">2</text></g>
<g class="cap"><text x="470.6" y="907.6" textLength="25.2" lengthAdjust="spacingAndGlyphs">(e)</text><text class="i n" x="506.6" y="907.6" textLength="19.5" lengthAdjust="spacingAndGlyphs" style="font-size:23px">P</text><text class="i n" x="525.8" y="914.0" textLength="24.1" lengthAdjust="spacingAndGlyphs" style="font-size:14.8px">W<tspan style="font-style:normal">1</tspan></text><text x="529.0" y="898.3" textLength="18.5" lengthAdjust="spacingAndGlyphs" style="font-size:14.8px">−1</text><text class="i n" x="553.5" y="907.6" textLength="16.8" lengthAdjust="spacingAndGlyphs" style="font-size:24px">A</text><text x="570.6" y="910.9" textLength="8.0" lengthAdjust="spacingAndGlyphs" style="font-size:14.8px">2</text></g>
<g class="cap"><text x="104.7" y="1219.8" textLength="23.1" lengthAdjust="spacingAndGlyphs">(f)</text><text class="i n" x="131.5" y="1219.8" textLength="19.5" lengthAdjust="spacingAndGlyphs" style="font-size:23px">P</text><text class="i n" x="150.9" y="1226.2" textLength="23.9" lengthAdjust="spacingAndGlyphs" style="font-size:14.8px">W<tspan style="font-style:normal">2</tspan></text><text x="153.8" y="1210.5" textLength="18.4" lengthAdjust="spacingAndGlyphs" style="font-size:14.8px">−1</text><text class="i n" x="178.0" y="1219.8" textLength="16.8" lengthAdjust="spacingAndGlyphs" style="font-size:24px">A</text><text x="195.1" y="1223.1" textLength="8.2" lengthAdjust="spacingAndGlyphs" style="font-size:14.8px">2</text></g>
<g class="cap"><text x="457.2" y="1219.8" textLength="25.7" lengthAdjust="spacingAndGlyphs">(g)</text><text class="i n" x="493.5" y="1219.8" textLength="19.6" lengthAdjust="spacingAndGlyphs" style="font-size:23px">P</text><text class="n" x="513.4" y="1226.2" textLength="37.8" lengthAdjust="spacingAndGlyphs" letter-spacing="0.8" style="font-size:16px">PAB</text><text x="515.8" y="1210.5" textLength="18.4" lengthAdjust="spacingAndGlyphs" style="font-size:14.8px">−1</text><text class="i n" x="553.7" y="1219.8" textLength="16.8" lengthAdjust="spacingAndGlyphs" style="font-size:24px">A</text><text x="570.8" y="1223.1" textLength="8.1" lengthAdjust="spacingAndGlyphs" style="font-size:14.8px">2</text></g>
</svg></body></html>
